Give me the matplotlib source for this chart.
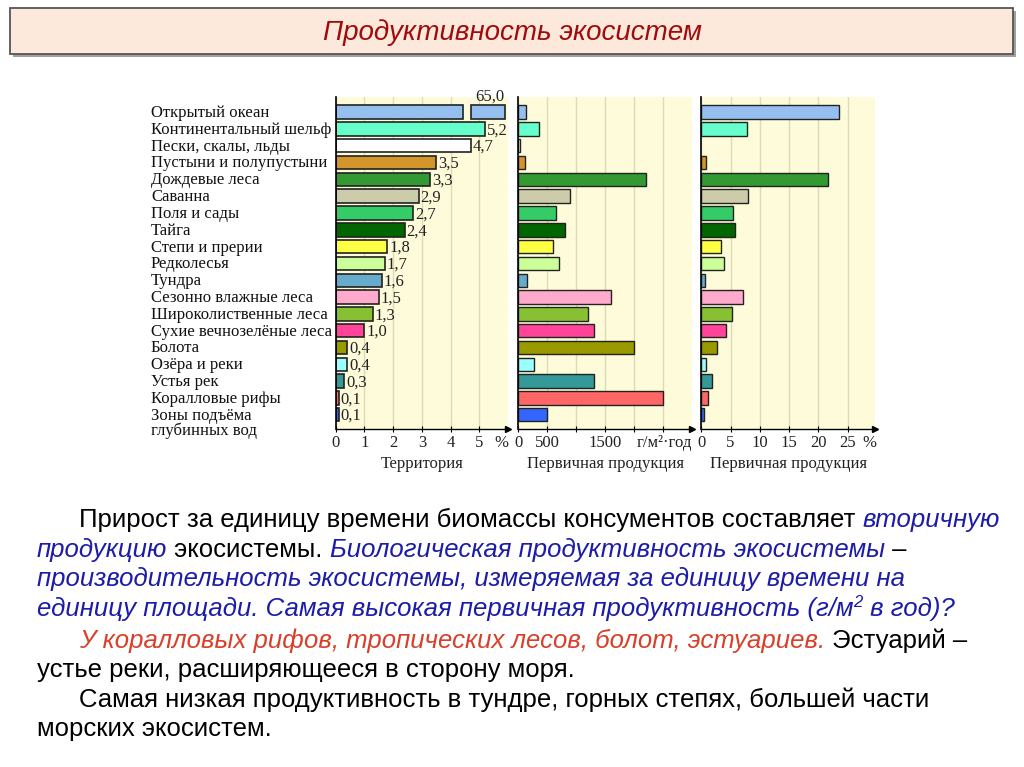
"""Продуктивность экосистем: три панели горизонтальных столбцов + текст слайда."""
import matplotlib
matplotlib.use("Agg")
import matplotlib.pyplot as plt
from matplotlib.patches import Rectangle

# --- данные ---
categories = [
    "Открытый океан", "Континентальный шельф", "Пески, скалы, льды",
    "Пустыни и полупустыни", "Дождевые леса", "Саванна", "Поля и сады",
    "Тайга", "Степи и прерии", "Редколесья", "Тундра",
    "Сезонно влажные леса", "Широколиственные леса",
    "Сухие вечнозелёные леса", "Болота", "Озёра и реки", "Устья рек",
    "Коралловые рифы", "Зоны подъёма\nглубинных вод",
]
territory = [65.0, 5.2, 4.7, 3.5, 3.3, 2.9, 2.7, 2.4, 1.8, 1.7, 1.6,
             1.5, 1.3, 1.0, 0.4, 0.4, 0.3, 0.1, 0.1]
production = [125, 360, 30, 110, 2200, 900, 650, 800, 600, 700, 150,
              1600, 1200, 1300, 2000, 270, 1300, 2500, 500]
production_share = [23.5, 7.8, 0.0, 0.8, 21.6, 8.0, 5.4, 5.8, 3.3, 3.8, 0.6,
                    7.2, 5.3, 4.2, 2.7, 0.8, 1.9, 1.2, 0.5]
bar_colors = [
    "#94BFEF", "#66FFCC", "#FFFFFF", "#D4952A", "#339933", "#CCCCAA",
    "#33CC66", "#006600", "#FFFF44", "#CCFF99", "#66AACC", "#FFAACC",
    "#88C033", "#FF4499", "#999900", "#99FFFF", "#339999", "#FF6666",
    "#3366FF",
]

W, H = 1024, 767
BG = "#FDFBDA"
GRID = "#DEDAB4"
SERIF = "Liberation Serif"
SANS = "Liberation Sans"
SFS = 12  # подписи диаграммы

fig = plt.figure(figsize=(W / 100, H / 100), dpi=100)


def fx(px):
    return px / W


def fy(py):
    return 1 - py / H


# --- заголовок в рамке ---
fig.patches.append(Rectangle((fx(13), fy(57)), fx(1003), 46 / H, transform=fig.transFigure,
                             facecolor="#A0A0A0", edgecolor="none", zorder=0))
fig.patches.append(Rectangle((fx(10), fy(54)), fx(1003), 46 / H, transform=fig.transFigure,
                             facecolor="#FCE9DC", edgecolor="#555555", lw=1.3, zorder=1))
fig.text(0.5, fy(33), "Продуктивность экосистем", ha="center", va="center",
         fontsize=20, style="italic", color="#A00C0C", family=SANS)

# --- панели ---
top_px, bot_px = 97, 429
ylim = (18.85, -0.9)
ypos = list(range(len(categories)))
LABEL_Y = -0.018  # верх подписей делений, в долях оси


def make_axes(x0, x1):
    ax = fig.add_axes([fx(x0), fy(bot_px), (x1 - x0) / W, (bot_px - top_px) / H])
    ax.set_facecolor(BG)
    ax.set_ylim(*ylim)
    ax.set_yticks([])
    for s in ("top", "right"):
        ax.spines[s].set_visible(False)
    ax.spines["left"].set_color("black")
    ax.spines["left"].set_linewidth(1.2)
    ax.spines["bottom"].set_linewidth(1.0)
    ax.plot(1, 0, ">", color="black", ms=5, transform=ax.transAxes, clip_on=False)
    ax.xaxis.grid(True, color=GRID, lw=1)
    ax.set_axisbelow(True)
    ax.tick_params(axis="x", direction="inout", length=5, width=0.8, pad=2,
                   labelsize=SFS, labelfontfamily=SERIF, labelcolor="#222222")
    return ax


ax1 = make_axes(335.7, 508)
ax2 = make_axes(518.3, 692)
ax3 = make_axes(701.3, 875)

# территория, с разрывом у открытого океана
ax1.set_xlim(0, 6.0)
ax1.set_xticks([0, 1, 2, 3, 4, 5], ["0", "1", "2", "3", "4", "5"])
for y, v, c in zip(ypos, territory, bar_colors):
    if v > 5.9:
        ax1.barh(y, 4.42, height=0.8, color=c, edgecolor="#222222", lw=1.2)
        ax1.barh(y, 5.88 - 4.70, left=4.70, height=0.8, color=c, edgecolor="#222222", lw=1.2)
        ax1.text(5.35, y - 0.45, f"{v:.1f}".replace(".", ","), ha="center", va="bottom",
                 fontsize=SFS, family=SERIF, color="#222222", clip_on=False)
    else:
        ax1.barh(y, v, height=0.8, color=c, edgecolor="#222222", lw=1.2)
        ax1.text(v + 0.06, y + 0.08, f"{v:.1f}".replace(".", ","), ha="left", va="center",
                 fontsize=SFS, family=SERIF, color="#222222")
ax1.text(5.78, LABEL_Y, "%", transform=ax1.get_xaxis_transform(), ha="center", va="top",
         fontsize=SFS, family=SERIF, color="#222222")

# подписи категорий
lab_tr = matplotlib.transforms.blended_transform_factory(fig.transFigure, ax1.transData)
for y, name in zip(ypos, categories):
    ax1.text(fx(151), y - 0.42, name, transform=lab_tr, ha="left", va="top",
             fontsize=SFS, family=SERIF, color="#111111", linespacing=0.9)

# первичная продукция, г/м²·год
ax2.set_xlim(0, 3000)
ax2.set_xticks([0, 500, 1000, 1500, 2000, 2500], ["0", "500", "", "1500", "", ""])
for y, v, c in zip(ypos, production, bar_colors):
    ax2.barh(y, v, height=0.8, color=c, edgecolor="#222222", lw=1.0)
ax2.text(1.0, LABEL_Y, "г/м²·год", transform=ax2.transAxes, ha="right", va="top",
         fontsize=SFS, family=SERIF, color="#222222")

# первичная продукция, %
ax3.set_xlim(0, 29.7)
ax3.set_xticks([0, 5, 10, 15, 20, 25], ["0", "5", "10", "15", "20", "25"])
for y, v, c in zip(ypos, production_share, bar_colors):
    if v > 0:
        ax3.barh(y, v, height=0.8, color=c, edgecolor="#222222", lw=1.0)
ax3.text(28.7, LABEL_Y, "%", transform=ax3.get_xaxis_transform(), ha="center", va="top",
         fontsize=SFS, family=SERIF, color="#222222")

for ax, title in ((ax1, "Территория"), (ax2, "Первичная продукция"),
                  (ax3, "Первичная продукция")):
    ax.text(0.5, fy(464), title, transform=matplotlib.transforms.blended_transform_factory(
        ax.transAxes, fig.transFigure), ha="center", va="center",
        fontsize=SFS, family=SERIF, color="#222222")

# --- текст слайда (разноцветные фрагменты) ---
BLACK, BLUE, RED = "#000000", "#1C1CA8", "#D8402A"
FS = 18.5
text_lines = [
    (79, 527, [("Прирост за единицу времени биомассы консументов составляет ", BLACK, "normal"),
               ("вторичную", BLUE, "italic")]),
    (37, 557, [("продукцию", BLUE, "italic"), (" экосистемы. ", BLACK, "normal"),
               ("Биологическая продуктивность экосистемы", BLUE, "italic"),
               (" –", BLACK, "normal")]),
    (37, 586, [("производительность экосистемы, измеряемая за единицу времени на", BLUE, "italic")]),
    (37, 616, [("единицу площади. Самая высокая первичная продуктивность (г/м", BLUE, "italic"),
               ("^2", BLUE, "italic"), (" в год)?", BLUE, "italic")]),
    (79, 648, [("У коралловых рифов, тропических лесов, болот, эстуариев.", RED, "italic"),
               (" Эстуарий –", BLACK, "normal")]),
    (37, 677, [("устье реки, расширяющееся в сторону моря.", BLACK, "normal")]),
    (79, 707, [("Самая низкая продуктивность в тундре, горных степях, большей части", BLACK, "normal")]),
    (37, 736, [("морских экосистем.", BLACK, "normal")]),
]

renderer = fig.canvas.get_renderer()


def run_width(s, size, style):
    t = fig.text(0, 0, s + "|", fontsize=size, style=style, family=SANS)
    b = fig.text(0, 0, "|", fontsize=size, style=style, family=SANS)
    w = t.get_window_extent(renderer).width - b.get_window_extent(renderer).width
    t.remove()
    b.remove()
    return w


for x0, base, runs in text_lines:
    x = x0
    for s, col, st in runs:
        size, dy = FS, 0
        if s.startswith("^"):
            s, size, dy = s[1:], FS * 0.65, -9
        fig.text(fx(x), fy(base + dy), s, ha="left", va="baseline", fontsize=size,
                 style=st, color=col, family=SANS)
        x += run_width(s, size, st)

fig.savefig("out.png", dpi=100, facecolor="white")
